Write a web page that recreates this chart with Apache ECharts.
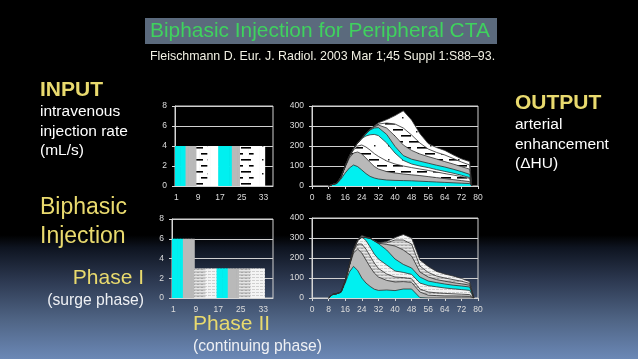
<!DOCTYPE html>
<html><head><meta charset="utf-8">
<style>html,body{margin:0;padding:0;background:#000}#c{width:638px;height:359px}</style>
<script src="https://cdn.jsdelivr.net/npm/echarts/dist/echarts.min.js"></script>
</head><body><div id="c"></div>
<script>
// ---------- DATA ----------
// input charts: injection-second categories
const barCats = ['1','2','3','4','5','6','7','8','9','10','11','12','13','14','15','16','17','18','19','20','21','22','23','24','25','26','27','28','29','30','31','32','33','34','35','36'];
// top (uniform 4 mL/s) injection rate per second
const topRate = [4,4,4,4,4,4,4,4,4,4,4,4,4,4,4,4,4,4,4,4,4,4,4,4,4,4,4,4,4,4,4,4,4];
// segment of each injection second (c=cyan, g=gray, d=dashed, w=white)
const topSeg = ['c','c','c','c','g','g','g','g','d','d','d','d','w','w','w','w','c','c','c','c','c','g','g','g','d','d','d','d','d','w','w','w','w'];
// bottom (biphasic) injection rate per second
const botRate = [6,6,6,6,6,6,6,6,3,3,3,3,3,3,3,3,3,3,3,3,3,3,3,3,3,3,3,3,3,3,3,3,3];
const botSeg = ['c','c','c','c','g','g','g','g','h','h','h','h','k','k','k','k','c','c','c','c','g','g','g','g','h','h','h','h','k','k','k','k','k'];

// output charts: time (s) and cumulative layer edges (HU)
const tTop = [8,10,12,14,16,18,20,22,24,26,28,30,32,36,40,44,48,52,56,60,64,68,72,76,77];
const topEdges = [
  [0,8,12,35,65, 90,105,97,80,62, 48,40,35,30,28, 27,26,24,22,20, 18,16,14,12,0],
  [0,8,14,45,95, 140,165,170,160,140, 118,98,85,72,65, 60,56,52,47,42, 37,32,27,22,0],
  [0,8,14,45,98, 147,180,200,205,195, 180,162,148,125,110, 100,92,85,78,70, 62,55,47,38,0],
  [0,8,14,45,100, 150,187,215,238,250, 256,258,252,215,165, 128,110,100,92,82, 73,64,54,42,0],
  [0,8,14,45,100, 150,187,215,238,262, 280,290,292,258,198, 152,134,124,114,104, 95,84,72,58,0],
  [0,8,14,45,100, 150,187,215,238,262, 282,296,305,290,250, 205,178,160,147,135, 122,110,97,84,0],
  [0,8,14,45,100, 150,187,215,238,263, 283,298,310,315,310, 290,255,215,185,168, 155,138,120,105,0],
  [0,8,14,45,100, 150,187,215,240,264, 285,300,316,332,352, 376,330,262,212,192, 178,156,136,122,0]
];
const topLayerSeg = ['c','g','d','w','c','g','d','w'];

const tBot = [8,10,12,14,16,18,20,22,24,26,28,30,32,36,40,44,48,52,56,60,64,68,72,76,78];
const botEdges = [
  [0,18,22,28,75, 130,158,138,100,75, 58,44,38,40,37, 45,45,2,0,0, 0,0,0,0,0],
  [0,18,22,30,85, 160,225,245,225,190, 155,125,105,88,80, 82,78,30,14,12, 10,10,9,8,0],
  [0,18,22,30,85, 162,235,270,270,245, 210,175,148,120,105, 102,96,45,30,26, 23,21,19,17,0],
  [0,18,22,30,85, 165,242,288,305,288, 255,220,195,165,135, 128,118,75,62,56, 50,46,42,38,0],
  [0,18,22,30,85, 165,242,288,305,302, 298,285,272,240,195, 168,150,105,85,77, 70,64,60,55,0],
  [0,18,22,30,85, 165,242,288,305,302, 298,286,274,268,260, 240,210,130,105,92, 84,77,71,64,0],
  [0,18,22,30,85, 165,242,288,305,303, 299,286,275,276,290, 290,270,160,128,110, 100,92,84,73,0],
  [0,18,23,30,85, 165,242,290,313,305, 300,287,276,282,302, 318,300,190,158,133, 120,110,98,82,0]
];
const botLayerSeg = ['c','g','h','k','c','g','h','k'];

const xTicksOut = [0,8,16,24,32,40,48,56,64,72,80];

// ---------- STYLES ----------
function pattern(w, h, bg, draw) {
  const c = document.createElement('canvas'); c.width = w; c.height = h;
  const x = c.getContext('2d'); x.fillStyle = bg; x.fillRect(0, 0, w, h); draw(x);
  return { image: c, repeat: 'repeat' };
}
const fills = {
  c: '#00f0f0',
  g: '#b9b9b9',
  d: pattern(16, 12, '#ffffff', x => { x.fillStyle = '#000'; x.fillRect(1, 3, 10, 1.6); x.fillRect(9, 9, 7, 1.6); x.fillRect(0, 9, 3, 1.6); }),
  w: pattern(14, 14, '#ffffff', x => { x.fillStyle = '#222'; x.fillRect(10, 5, 1.5, 1.5); }),
  h: pattern(4, 3, '#c4c4c4', x => { x.fillStyle = '#e6e6e6'; x.fillRect(0, 0, 4, 1); x.fillStyle = '#a8a8a8'; x.fillRect(1, 2, 2, 1); }),
  k: pattern(4, 3, '#f4f4f4', x => { x.fillStyle = '#cfcfcf'; x.fillRect(0, 1, 3, 1); })
};
const axCol = '#d6d6d6';
const lblFont = { color: '#dcdcdc', fontSize: 8.5, fontFamily: 'Liberation Sans' };

function barAxisX(gi) {
  return { gridIndex: gi, type: 'category', data: barCats,
    axisLine: { lineStyle: { color: axCol } },
    axisTick: { interval: 3, length: 3, lineStyle: { color: axCol } },
    axisLabel: Object.assign({ interval: 7, margin: 7 }, lblFont), splitLine: { show: false } };
}
function valAxisX(gi) {
  return { gridIndex: gi, type: 'value', min: 0, max: 80, interval: 8,
    axisLine: { lineStyle: { color: axCol } },
    axisTick: { show: true, length: 3, lineStyle: { color: axCol } },
    axisLabel: Object.assign({ margin: 7, formatter: v => xTicksOut.includes(v) ? String(v) : '' }, lblFont),
    splitLine: { show: false } };
}
function valAxisY(gi, max, iv) {
  return { gridIndex: gi, type: 'value', min: 0, max: max, interval: iv,
    axisLine: { show: true, lineStyle: { color: axCol } },
    axisTick: { show: true, length: 3, lineStyle: { color: axCol } },
    axisLabel: Object.assign({ margin: 8 }, lblFont),
    splitLine: { lineStyle: { color: '#d0d0d0', width: 1 } } };
}

const series = [];
function addBars(ai, rate, seg, bw) {
  series.push({ type: 'bar', xAxisIndex: ai, yAxisIndex: ai, barWidth: bw,
    data: rate.map((v, i) => ({ value: v, itemStyle: { color: fills[seg[i]] } })) });
}
function addAreas(ai, t, edges, seg) {
  for (let k = edges.length - 1; k >= 0; k--) {
    series.push({ type: 'line', xAxisIndex: ai, yAxisIndex: ai, symbol: 'none', smooth: false,
      data: t.map((x, i) => [x, edges[k][i]]),
      lineStyle: { color: '#2e2e2e', width: 0.8 },
      areaStyle: { color: fills[seg[k]], opacity: 1 } });
  }
}
addBars(0, topRate, topSeg, 3.4);
addBars(1, botRate, botSeg, 3.5);
addAreas(2, tTop, topEdges, topLayerSeg);
addAreas(3, tBot, botEdges, botLayerSeg);

const F = 'Liberation Sans';
function txt(x, y, s, size, fill, opts) {
  return { type: 'text', silent: true, style: { x: x, y: y, text: s,
    font: (opts && opts.bold ? 'bold ' : '') + size + 'px "' + F + '"', fill: fill,
    align: (opts && opts.align) || 'left', verticalAlign: 'middle' } };
}
const yel = '#e9da6e';
const graphics = [
  { type: 'rect', shape: { x: 145, y: 18, width: 352, height: 26 }, style: { fill: '#5b6a7d' } },
  txt(150, 31.5, 'Biphasic Injection for Peripheral CTA', 20.9, '#3fd25e'),
  txt(150, 56.5, 'Fleischmann D. Eur. J. Radiol. 2003 Mar 1;45 Suppl 1:S88\u201393.', 12.4, '#f2f1e4'),
  txt(40, 90.5, 'INPUT', 21, yel, { bold: true }),
  txt(40, 112, 'intravenous', 15.5, '#ffffff'),
  txt(40, 131.5, 'injection rate', 15.5, '#ffffff'),
  txt(40, 151, '(mL/s)', 15.5, '#ffffff'),
  txt(40, 208, 'Biphasic', 23, yel),
  txt(40, 237, 'Injection', 23, yel),
  txt(144, 278, 'Phase I', 21, yel, { align: 'right' }),
  txt(144, 301, '(surge phase)', 15.7, '#eef0f4', { align: 'right' }),
  txt(193, 324, 'Phase II', 21, yel),
  txt(193, 347, '(continuing phase)', 15.7, '#eef0f4'),
  txt(515, 103, 'OUTPUT', 21, yel, { bold: true }),
  txt(515, 125, 'arterial', 15.5, '#ffffff'),
  txt(515, 144.5, 'enhancement', 15.5, '#ffffff'),
  txt(515, 163.5, '(\u0394HU)', 15.5, '#ffffff')
];

const chart = echarts.init(document.getElementById('c'), null, { renderer: 'canvas' });
chart.setOption({
  animation: false,
  backgroundColor: { type: 'linear', x: 0, y: 0, x2: 0, y2: 1, colorStops: [
    { offset: 0, color: '#000000' }, { offset: 0.655, color: '#000000' }, { offset: 0.69, color: '#0e1420' },
    { offset: 0.78, color: '#2c3850' }, { offset: 0.89, color: '#4f6484' }, { offset: 1, color: '#6b88b6' }] },
  grid: [
    { left: 175, top: 106, width: 98, height: 80, show: true, borderColor: '#d0d0d0', borderWidth: 1 },
    { left: 172, top: 219, width: 101, height: 79, show: true, borderColor: '#d0d0d0', borderWidth: 1 },
    { left: 312, top: 106, width: 166, height: 80, show: true, borderColor: '#d0d0d0', borderWidth: 1 },
    { left: 312, top: 218, width: 166, height: 80, show: true, borderColor: '#d0d0d0', borderWidth: 1 }
  ],
  xAxis: [barAxisX(0), barAxisX(1), valAxisX(2), valAxisX(3)],
  yAxis: [valAxisY(0, 8, 2), valAxisY(1, 8, 2), valAxisY(2, 400, 100), valAxisY(3, 400, 100)],
  series: series,
  graphic: graphics
});
</script></body></html>
